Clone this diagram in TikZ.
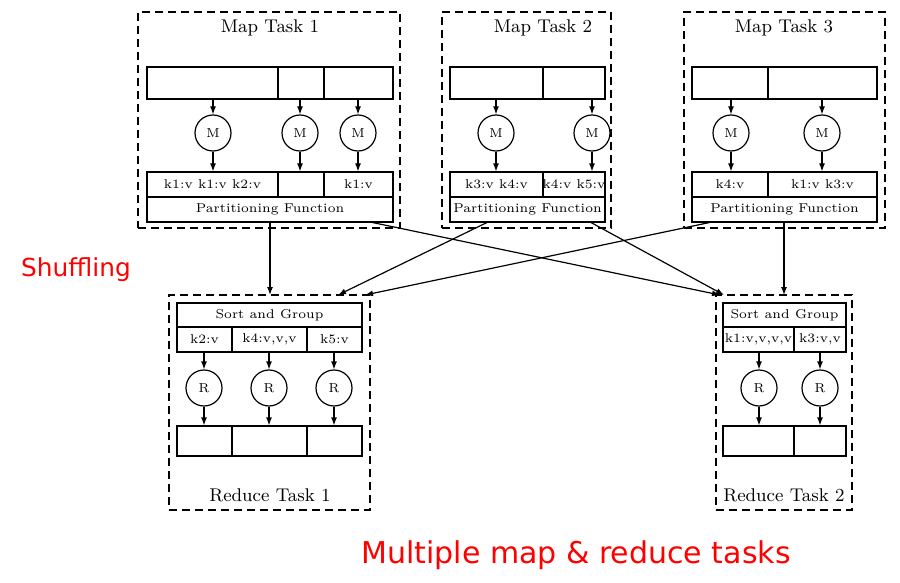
\documentclass[tikz,border=0pt]{standalone}
\usepackage{fontspec}
\newfontfamily\sansf{DejaVu Sans}
\usetikzlibrary{fit,arrows.meta}
\begin{document}
\begin{tikzpicture}[x=0.5pt,y=-0.5pt,
  task/.style={draw,dashed,line width=0.9pt,dash pattern=on 4pt off 2.5pt,inner sep=0},
  cell/.style={draw,line width=0.6pt,inner sep=0},
  circ/.style={draw,circle,line width=0.6pt,minimum size=18pt,inner sep=0,font=\fontsize{6.5}{7}\selectfont},
  arr/.style={-{Latex[length=4pt,width=3pt]},line width=0.6pt},
  small/.style={font=\fontsize{6.4}{7}\selectfont},
  ttl/.style={font=\fontsize{9.2}{10}\selectfont}]
\useasboundingbox (0,0) rectangle (900,583);
\newcommand\cellbox[6]{\node[cell,fit={(#2,#3)(#4,#5)},label={[small]center:#6}] (#1) {};}
% Map Task 1
\node[task,fit={(138,12)(400,228)}] (mt1) {};
\node[ttl] (mt1t) at (270,28) {Map Task 1};
\cellbox{i11}{147}{67}{278}{99}{}
\cellbox{i12}{278}{67}{324}{99}{}
\cellbox{i13}{324}{67}{393}{99}{}
\node[circ] (m11) at (213,133) {M};
\node[circ] (m12) at (300,133) {M};
\node[circ] (m13) at (358,133) {M};
\cellbox{o11}{147}{172}{278}{197}{k1:v k1:v k2:v}
\cellbox{o12}{278}{172}{324}{197}{}
\cellbox{o13}{324}{172}{393}{197}{k1:v}
\cellbox{p1}{147}{197}{393}{222}{Partitioning Function}
% Map Task 2
\node[task,fit={(442,12)(611,228)}] (mt2) {};
\node[ttl] (mt2t) at (543,28) {Map Task 2};
\cellbox{i21}{450}{67}{543}{99}{}
\cellbox{i22}{543}{67}{605}{99}{}
\node[circ] (m21) at (496,133) {M};
\node[circ] (m22) at (592,133) {M};
\cellbox{o21}{450}{172}{543}{197}{k3:v k4:v}
\cellbox{o22}{543}{172}{605}{197}{k4:v k5:v}
\cellbox{p2}{450}{197}{605}{222}{Partitioning Function}
% Map Task 3
\node[task,fit={(684,12)(885,228)}] (mt3) {};
\node[ttl] (mt3t) at (784,28) {Map Task 3};
\cellbox{i31}{692}{67}{768}{99}{}
\cellbox{i32}{768}{67}{877}{99}{}
\node[circ] (m31) at (731,133) {M};
\node[circ] (m32) at (822,133) {M};
\cellbox{o31}{692}{172}{768}{197}{k4:v}
\cellbox{o32}{768}{172}{877}{197}{k1:v k3:v}
\cellbox{p3}{692}{197}{877}{222}{Partitioning Function}
% Reduce Task 1
\node[task,fit={(169,295)(370,510)}] (rt1) {};
\node[ttl] (rt1t) at (270,495) {Reduce Task 1};
\cellbox{s1}{177}{303}{362}{327}{Sort and Group}
\cellbox{k11}{177}{327}{232}{352}{k2:v}
\cellbox{k12}{232}{327}{307}{352}{k4:v,v,v}
\cellbox{k13}{307}{327}{362}{352}{k5:v}
\node[circ] (r11) at (204,388) {R};
\node[circ] (r12) at (269,388) {R};
\node[circ] (r13) at (334,388) {R};
\cellbox{q11}{177}{426}{232}{456}{}
\cellbox{q12}{232}{426}{307}{456}{}
\cellbox{q13}{307}{426}{362}{456}{}
% Reduce Task 2
\node[task,fit={(716,295)(852,510)}] (rt2) {};
\node[ttl] (rt2t) at (784,495) {Reduce Task 2};
\cellbox{s2}{723}{303}{846}{327}{Sort and Group}
\cellbox{k21}{723}{327}{794}{352}{k1:v,v,v,v}
\cellbox{k22}{794}{327}{846}{352}{k3:v,v}
\node[circ] (r21) at (759,388) {R};
\node[circ] (r22) at (820,388) {R};
\cellbox{q21}{723}{426}{794}{456}{}
\cellbox{q22}{794}{426}{846}{456}{}
% internal arrows
\foreach \a/\m/\b in {i11/m11/o11,i12/m12/o12,i13/m13/o13,i21/m21/o21,i22/m22/o22,i31/m31/o31,i32/m32/o32}{
  \draw[arr] (\a.south -| \m) -- (\m.north);
  \draw[arr] (\m.south) -- (\b.north -| \m);
}
\foreach \a/\m/\b in {k11/r11/q11,k12/r12/q12,k13/r13/q13,k21/r21/q21,k22/r22/q22}{
  \draw[arr] (\a.south -| \m) -- (\m.north);
  \draw[arr] (\m.south) -- (\b.north -| \m);
}
% shuffle
\coordinate (a1) at (270,222); \coordinate (b1) at (270,295);
\coordinate (a2) at (370,222); \coordinate (b2) at (720,295);
\coordinate (a3) at (488,222); \coordinate (b3) at (338,295);
\coordinate (a4) at (590,222); \coordinate (b4) at (724,295);
\coordinate (a5) at (712,222); \coordinate (b5) at (365,295);
\coordinate (a6) at (784,222); \coordinate (b6) at (784,295);
\foreach \i in {1,...,6}{\draw[arr] (a\i) -- (b\i);}
\node[text=red,font=\sansf\fontsize{12.4}{14}\selectfont] (shuf) at (76,270) {Shuffling};
\node[text=red,font=\sansf\fontsize{15}{18}\selectfont] (mult) at (576,555) {Multiple map \& reduce tasks};
\end{tikzpicture}
\end{document}
